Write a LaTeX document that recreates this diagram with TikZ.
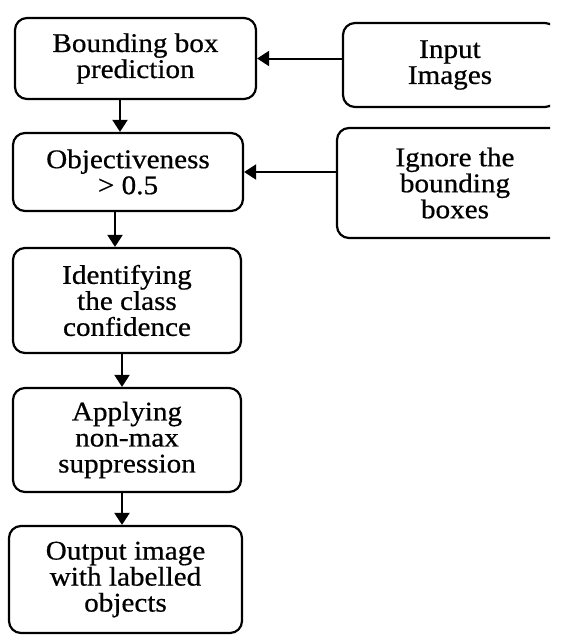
\documentclass[tikz,border=0pt]{standalone}
\usepackage{fontspec}
\setmainfont{Liberation Serif}[FakeStretch=1.08,FakeBold=0.6]
\usetikzlibrary{arrows.meta}
\tikzset{
  stage/.style={draw, line width=2.2pt, rounded corners=12pt, align=center,
    inner sep=0pt, font=\fontsize{27}{26}\selectfont},
  arr/.style={line width=2pt, -{Triangle[length=12pt,width=15pt]}}
}
\begin{document}
\begin{tikzpicture}[x=1pt,y=-1pt]
        \useasboundingbox (0,0) rectangle (566,637);
        \clip (0,0) rectangle (550,637);
        \node[stage, minimum width=241pt, minimum height=81pt] (bbox) at (135.5,58.5) {Bounding box\\prediction};
        \node[stage, minimum width=214pt, minimum height=84pt] (inp) at (450,65) {Input\\Images};
        \node[stage, minimum width=230pt, minimum height=78pt] (obj) at (128,172) {Objectiveness\\> 0.5};
        \node[stage, minimum width=236pt, minimum height=110pt] (ign) at (455,183) {Ignore the\\bounding\\boxes};
        \node[stage, minimum width=228pt, minimum height=105pt] (cls) at (127,300.5) {Identifying\\the class\\confidence};
        \node[stage, minimum width=228pt, minimum height=104pt] (nms) at (127,440) {Applying\\non-max\\suppression};
        \node[stage, minimum width=233pt, minimum height=107pt] (out) at (125.5,579.5) {Output image\\with labelled\\objects};
        \draw[arr] (inp.west |- bbox.east) -- (bbox.east);
        \draw[arr] (ign.west |- obj.east) -- (obj.east);
        \draw[arr] (bbox.south -| 120,0) -- (obj.north -| 120,0);
        \draw[arr] (obj.south -| 115,0) -- (cls.north -| 115,0);
        \draw[arr] (cls.south -| 122,0) -- (nms.north -| 122,0);
        \draw[arr] (nms.south -| 122,0) -- (out.north -| 122,0);
    \end{tikzpicture}
\end{document}
